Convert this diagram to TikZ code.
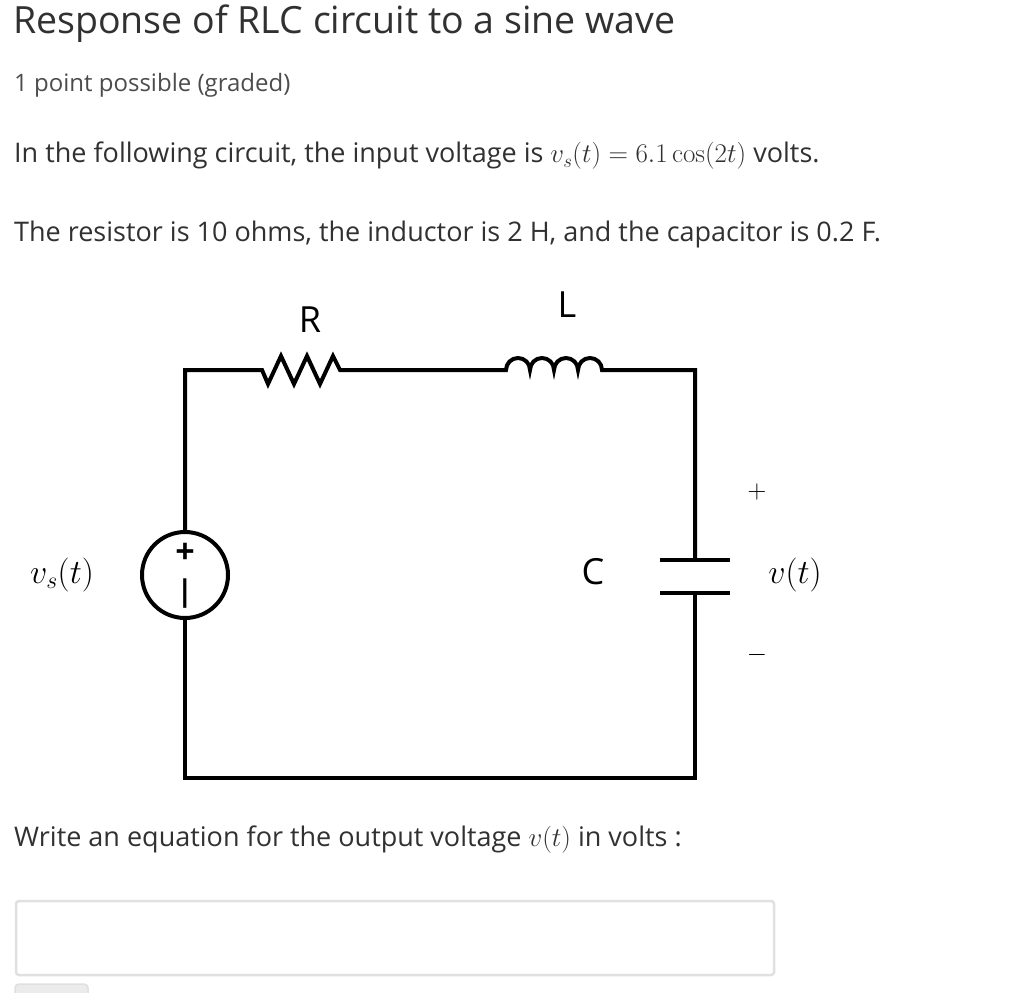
\RequirePackage{fix-cm}
\documentclass[tikz,border=0pt]{standalone}
\usepackage[no-math]{fontspec}
\setmainfont{Open Sans}
\definecolor{txt}{HTML}{313131}
\begin{document}
\begin{tikzpicture}[x=1pt,y=-1pt,
  wire/.style={line width=4pt,line join=miter},
  lbl/.style={inner sep=0pt,text=txt,anchor=west},
  big/.style={font=\fontsize{36}{40}\selectfont}]
\useasboundingbox (0,0) rectangle (1024,992);
\fill[white] (0,0) rectangle (1024,992);
\node[lbl,font=\fontsize{37.5}{42}\selectfont] (title) at (13,24) {Response of RLC circuit to a sine wave};
\node[lbl,font=\fontsize{24}{28}\selectfont,text=black!70] (pts) at (14,85) {1 point possible (graded)};
\node[lbl,font=\fontsize{27}{30}\selectfont] (l1) at (14,156) {In the following circuit, the input voltage is $v_s(t)=6.1\cos(2t)$ volts.};
\node[lbl,font=\fontsize{27}{30}\selectfont] (l2) at (14,234) {The resistor is 10 ohms, the inductor is 2 H, and the capacitor is 0.2 F.};
\node[lbl,font=\fontsize{27}{30}\selectfont] (l3) at (14,840) {Write an equation for the output voltage $v(t)$ in volts :};
% circuit
\coordinate (tr) at (695,370);
\coordinate (br) at (695,778);
\coordinate (r1) at (262,370); \coordinate (r2) at (350,370);
\coordinate (l1s) at (505,370); \coordinate (l2s) at (602,370);
\coordinate (c1) at (695,560); \coordinate (c2) at (695,593);
\node[circle,draw,line width=4pt,minimum size=86pt,inner sep=0pt] (src) at (185,575) {};
\draw[wire] (src.north) -- (185,370) -- (r1) -- (268,384) -- (281,356) -- (294,384) -- (307,356) -- (320,384) -- (333,356) -- (340,370) -- (r2) -- (l1s);
\draw[wire] (l1s) -- (506,370) arc[start angle=180,end angle=360,radius=12] arc[start angle=180,end angle=360,radius=12] arc[start angle=180,end angle=360,radius=12] arc[start angle=180,end angle=360,radius=12] -- (l2s) -- (tr) -- (c1);
\draw[wire] (660,560) -- (730,560);
\draw[wire] (660,593) -- (730,593);
\draw[wire] (c2) -- (br) -- (185,778) -- (src.south);
\node[font=\bfseries\fontsize{34}{34}\selectfont,inner sep=0pt] (pl) at (185,553) {+};
\node[font=\bfseries\fontsize{30}{30}\selectfont,inner sep=0pt] (mi) at (185,594) {|};
\node[big,inner sep=0pt] (R) at (310,320) {R};
\node[big,inner sep=0pt] (L) at (567,305) {L};
\node[big,inner sep=0pt] (C) at (593,572) {C};
\node[inner sep=0pt,font=\fontsize{34}{36}\selectfont] (vs) at (62,575) {$v_s(t)$};
\node[inner sep=0pt,font=\fontsize{34}{36}\selectfont] (vt) at (795,575) {$v(t)$};
\node[inner sep=0pt,font=\fontsize{26}{28}\selectfont] (pp) at (757,492) {$+$};
\node[inner sep=0pt,font=\fontsize{26}{28}\selectfont] (mm) at (757,655) {$-$};
% answer box
\draw[black!12,line width=2.5pt,fill=white,rounded corners=3pt] (16,901) rectangle (774,975);
\draw[black!12,line width=1.5pt,fill=black!8,rounded corners=4pt] (15,984) rectangle (88,1000);
\end{tikzpicture}
\end{document}
